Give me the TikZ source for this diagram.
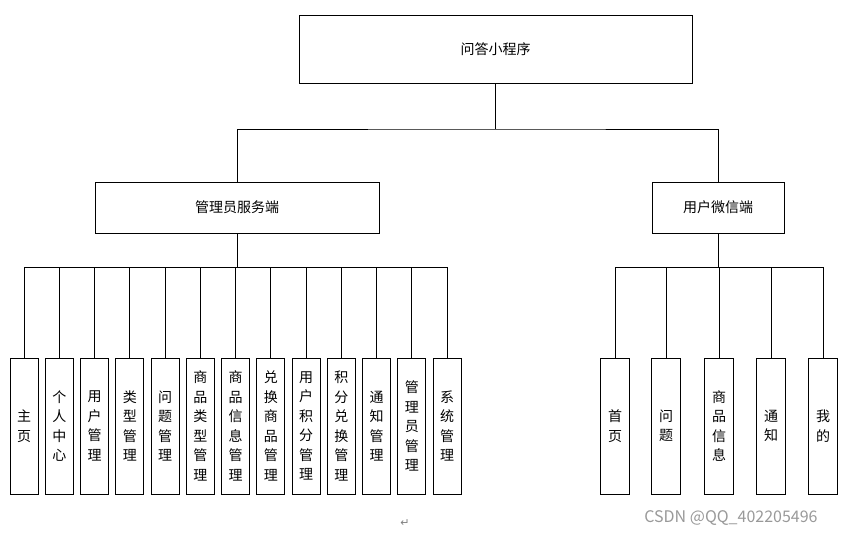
\documentclass[tikz,border=0pt]{standalone}
\usepackage{fontspec}
\setmainfont{Noto Sans CJK SC}
\newfontfamily\djv{DejaVu Sans}
\begin{document}
\begin{tikzpicture}[x=1pt,y=-1pt,
  box/.style={draw,line width=0.8pt,fill=white,inner sep=0pt,font=\fontsize{14}{16}\selectfont},
  leaf/.style={draw,line width=0.8pt,fill=white,inner sep=0pt,minimum height=136pt,align=center,font=\fontsize{14}{19.5}\selectfont},
  ln/.style={line width=0.8pt}]
\useasboundingbox (0,0) rectangle (844,536);
\node[box,minimum width=393pt,minimum height=68pt] (root) at (495.5,49) {问答小程序};
\node[box,minimum width=284pt,minimum height=51pt] (adm) at (237,207.5) {管理员服务端};
\node[box,minimum width=132pt,minimum height=51pt] (usr) at (718,207.5) {用户微信端};
\coordinate (rj) at (495.5,129);
\draw[ln] (root.south) -- (rj);
\draw[ln] (adm.north) |- (rj) -| (usr.north);
\foreach \i/\t in {0/主\\页,1/个\\人\\中\\心,2/用\\户\\管\\理,3/类\\型\\管\\理,4/问\\题\\管\\理,5/商\\品\\类\\型\\管\\理,6/商\\品\\信\\息\\管\\理,7/兑\\换\\商\\品\\管\\理,8/用\\户\\积\\分\\管\\理,9/积\\分\\兑\\换\\管\\理,10/通\\知\\管\\理,11/管\\理\\员\\管\\理,12/系\\统\\管\\理}{
  \node[leaf,minimum width=28pt] (a\i) at ({24+35.25*\i},426) {\t};
}
\draw[ln] (a0.north |- 0,267) -- (a12.north |- 0,267);
\draw[ln] (adm.south) -- (adm.south |- 0,267);
\foreach \i in {0,...,12}{ \draw[ln] (a\i.north) -- (a\i.north |- 0,267); }
\foreach \i/\x/\t in {0/615/首\\页,1/666/问\\题,2/719/商\\品\\信\\息,3/771/通\\知,4/823/我\\的}{
  \node[leaf,minimum width=29pt] (u\i) at (\x,426) {\t};
  \draw[ln] (u\i.north) -- (u\i.north |- 0,267);
}
\draw[ln] (u0.north |- 0,267) -- (u4.north |- 0,267);
\draw[ln] (usr.south) -- (usr.south |- 0,267);
\node[text=gray,font=\djv\fontsize{11}{12}\selectfont] (rt) at (405,523) {↵};
\node[text=gray!80,font=\fontsize{16}{18}\selectfont] (wm) at (731,518) {CSDN @QQ\_402205496};
\end{tikzpicture}
\end{document}
